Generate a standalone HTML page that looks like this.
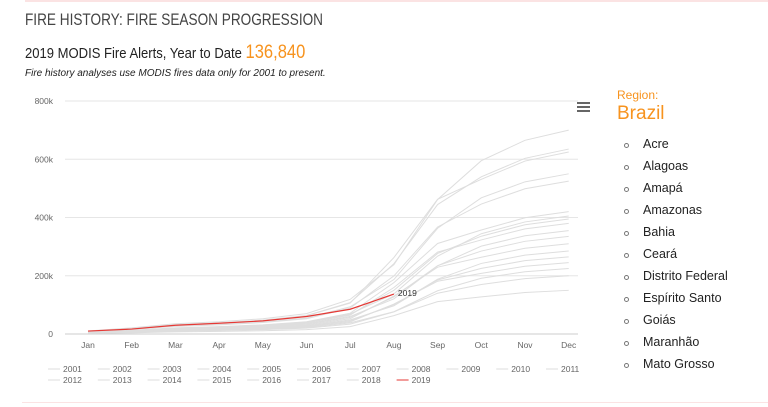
<!DOCTYPE html><html><head><meta charset="utf-8"><style>
body{margin:0;width:768px;height:407px;background:#fff;font-family:"Liberation Sans",sans-serif;position:relative;overflow:hidden;color:#333}
.a{position:absolute;white-space:nowrap}
</style></head><body>
<div class="a" style="left:25px;top:0;width:743px;height:2px;background:#fbe3e3"></div>
<div class="a" style="left:22px;top:402px;width:746px;height:1px;background:#fbe3e3"></div>
<div class="a" style="left:25px;top:10px;font-size:17px;color:#444;transform:scaleX(0.8);transform-origin:0 0">FIRE HISTORY: FIRE SEASON PROGRESSION</div>
<div class="a" style="left:25px;top:42px;font-size:15px;color:#222;transform:scaleX(0.87);transform-origin:0 0">2019 MODIS Fire Alerts, Year to Date <span style="color:#f7931e;font-size:19px">136,840</span></div>
<div class="a" style="left:25px;top:68px;font-size:10px;font-style:italic;color:#222">Fire history analyses use MODIS fires data only for 2001 to present.</div>
<div class="a" style="left:577px;top:102px;width:13px;height:2px;background:#666;box-shadow:0 4px 0 #666,0 8px 0 #666"></div>
<div class="a" style="left:617px;top:88px;font-size:12px;color:#f7931e">Region:</div>
<div class="a" style="left:617px;top:103px;font-size:19px;color:#f7931e">Brazil</div>
<div id="list"></div>
<svg id="s" class="a" style="left:0;top:0" width="768" height="407" font-family="Liberation Sans, sans-serif"></svg>
<script>
var s=document.getElementById('s'),h='';
var y0=334,k=233/800000;function Y(v){return y0-v*k}
[0,200,400,600,800].forEach(function(v){var y=Y(v*1000);h+='<line x1="65" x2="578" y1="'+y+'" y2="'+y+'" stroke="'+(v?'#e6e6e6':'#ccc')+'"/>';h+='<text x="53" y="'+(y+3)+'" font-size="8.5" fill="#666" text-anchor="end">'+(v?v+'k':'0')+'</text>'});
var m=['Jan','Feb','Mar','Apr','May','Jun','Jul','Aug','Sep','Oct','Nov','Dec'];
function X(i){return 88+i*43.7}
m.forEach(function(t,i){h+='<text x="'+X(i)+'" y="348" font-size="8.5" fill="#666" text-anchor="middle">'+t+'</text>'});
var f=[.015,.03,.05,.06,.075,.1,.17,.38,.7,.85,.95,1];
var ends=[700,635,625,550,525,420,405,395,380,355,335,310,285,265,245,225,200,150];
ends.forEach(function(e,j){var p='';var sh=(j%3)*.04;for(var i=0;i<12;i++){var fr=f[i];if(i==7)fr+=sh-.04;if(i==8)fr+=sh-.04;p+=(i?'L':'M')+X(i)+' '+Y(e*1000*fr)}h+='<path d="'+p+'" fill="none" stroke="#dedede" stroke-width="1"/>'});
var r=[10,17,30,37,45,60,85,137];var p='';r.forEach(function(v,i){p+=(i?'L':'M')+X(i)+' '+Y(v*1000)});
h+='<path d="'+p+'" fill="none" stroke="#e53935" stroke-width="1.2"/>';
h+='<text x="'+(X(7)+4)+'" y="'+(Y(137000)+2)+'" font-size="8.5" fill="#333">2019</text>';
for(var j=0;j<19;j++){var row=j<11?0:1,c=row?j-11:j;var x=48+c*49.8,y=row?383:372;h+='<line x1="'+x+'" x2="'+(x+12)+'" y1="'+(y-3)+'" y2="'+(y-3)+'" stroke="'+(j==18?'#e53935':'#ddd')+'" stroke-width="1"/><text x="'+(x+15)+'" y="'+y+'" font-size="8.5" fill="#666">'+(2001+j)+'</text>'}
s.innerHTML=h;
var L=['Acre','Alagoas','Amapá','Amazonas','Bahia','Ceará','Distrito Federal','Espírito Santo','Goiás','Maranhão','Mato Grosso'],q='';
L.forEach(function(t,i){var y=137+i*22;q+='<div class="a" style="left:624px;top:'+(y+6)+'px;width:3px;height:3px;border:1px solid #777;border-radius:50%"></div><div class="a" style="left:643px;top:'+y+'px;font-size:12.5px;color:#222">'+t+'</div>'});
document.getElementById('list').innerHTML=q;
</script></body></html>
